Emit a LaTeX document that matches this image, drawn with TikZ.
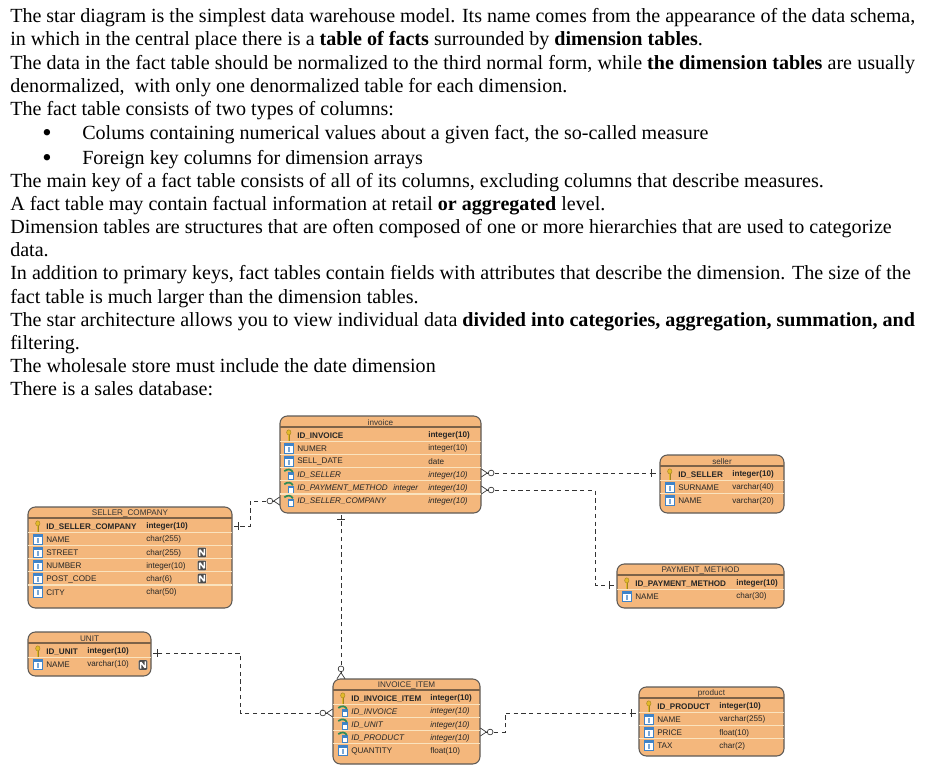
\documentclass[tikz,border=0pt]{standalone}
\usepackage{fontspec}
\setmainfont{Liberation Serif}
\setsansfont{Liberation Sans}
\usetikzlibrary{arrows.meta}
\definecolor{tablefill}{HTML}{F4B77C}
\definecolor{tableedge}{HTML}{5E5A56}
\definecolor{headline}{HTML}{7C6248}
\definecolor{rowline}{HTML}{FAE3BE}
\definecolor{keygold}{HTML}{E3B92B}
\definecolor{colblue}{HTML}{3F83C8}
\definecolor{fkgreen}{HTML}{2E8B57}
\tikzset{
  para/.style={anchor=base west,inner sep=0pt,font=\fontsize{15.06}{18}\selectfont},
  tablebox/.style={draw=tableedge,fill=tablefill,line width=0.8pt,rounded corners=5.5pt,inner sep=0pt,outer sep=0pt},
  tabletitle/.style={inner sep=0pt,font=\sffamily\fontsize{6.1}{7}\selectfont,text=black!80},
  rowtext/.style={anchor=west,inner sep=0pt,font=\sffamily\fontsize{6.1}{7}\selectfont,text=black!85},
  nullmark/.style={inner sep=0pt,minimum width=6.4pt,minimum height=7.4pt,fill=white,rounded corners=0.8pt,path picture={
    \fill[black!70,shift={(path picture bounding box.center)}] (-4.3,-5) rectangle (4.3,5);
    \draw[white,line width=1.1pt,line join=miter,shift={(path picture bounding box.center)}] (-2.4,3.6) -- (-2.4,-3.2) -- (2.4,3.2) -- (2.4,-3.6);}},
  rel/.style={draw=black!80,line width=0.6pt,dash pattern=on 3.2pt off 2.6pt},
  relends/.style={arrows={{Straight Barb[reversed,length=4.5pt,width=6pt,line width=0.5pt,sep=0pt]Circle[open,fill=white,length=4.8pt,width=4.8pt,line width=0.5pt,sep=0pt]}-{Bar[width=5.5pt,line width=0.6pt]}}},
}
\newcommand{\fontkey}{\bfseries}
\newcommand{\fontcol}{}
\newcommand{\fontfk}{\itshape}
\newcommand{\iconkey}[2]{\begin{scope}[shift={(#1,#2)}]
  \draw[keygold!70!black,fill=keygold,line width=0.3pt] (0,-2.6) ellipse (2.2 and 2.6);
  \fill[keygold!70!black] (-1.1,-0.5) rectangle (1.1,6);
  \fill[keygold] (-0.6,-0.5) rectangle (0.6,5.5);
\end{scope}}
\newcommand{\iconcol}[2]{\begin{scope}[shift={(#1,#2)}]
  \draw[colblue,fill=white,line width=0.5pt] (-4.2,-5.2) rectangle (4.2,5.4);
  \fill[colblue] (-4.2,-5.2) rectangle (4.2,-2.6);
  \fill[colblue!70] (-0.8,-1.4) rectangle (0.8,3.8);
\end{scope}}
\newcommand{\iconfk}[2]{\begin{scope}[shift={(#1,#2)}]
  \draw[colblue,fill=white,line width=0.5pt] (-0.5,-1.5) rectangle (5,5.5);
  \fill[colblue] (-0.5,-1.5) rectangle (5,0.4);
  \draw[fkgreen,line width=1.3pt] (-4.5,-3.2) .. controls (-1,-5.8) and (2.5,-5.2) .. (4,-2.2);
\end{scope}}
% name, x1, y1, x2, y2, title, name column, type column, rows
\newcommand{\ertable}[9]{
  \node[tablebox,minimum width={(#4-#2)*0.75pt},minimum height={(#5-#3)*0.75pt}] (#1) at ({(#2+#4)/2},{(#3+#5)/2}) {};
  \node[tabletitle] (#1-title) at ({(#2+#4)/2},#3+6.5) {#6};
  \foreach \kind/\colname/\coltype [count=\c] in {#9} {
    \pgfmathsetmacro{\rowy}{#3+19+13.1*(\c-1)}
    \ifnum\c>1 \draw[rowline,line width=0.8pt] (#2,\rowy-6.5) -- (#4,\rowy-6.5); \fi
    \csname icon\kind\endcsname{#7-8.2}{\rowy}
    \node[rowtext] (#1-\c) at (#7,\rowy+0.7) {\csname font\kind\endcsname \colname};
    \node[rowtext] (#1-\c-type) at (#8,\rowy+0.7) {\csname font\kind\endcsname \coltype};
  }
  \draw[headline,line width=1pt] (#2,#3+11) -- (#4,#3+11);
}
\newcommand{\just}[1]{\makebox[678.75pt][s]{#1}}
\begin{document}
\begin{tikzpicture}[x=0.75pt,y=-0.75pt]
\useasboundingbox (0,0) rectangle (951,769);
\node[para] (line1) at (10,22) {\just{The star diagram is the simplest data warehouse model. Its name comes from the appearance of the data schema,}};
\node[para] (line2) at (10,45) {in which in the central place there is a \textbf{table of facts} surrounded by \textbf{dimension tables}.};
\node[para] (line3) at (10,69) {\just{The data in the fact table should be normalized to the third normal form, while \textbf{the dimension tables} are usually}};
\node[para] (line4) at (10,92) {denormalized,\ \ with only one denormalized table for each dimension.};
\node[para] (line5) at (10,115) {The fact table consists of two types of columns:};
\node[para,font=\fontsize{20}{20}\selectfont] (dot1) at (42,141) {•};
\node[para] (line6) at (82,139) {Colums containing numerical values about a given fact, the so-called measure};
\node[para,font=\fontsize{20}{20}\selectfont] (dot2) at (42,166) {•};
\node[para] (line7) at (82,164) {Foreign key columns for dimension arrays};
\node[para] (line8) at (10,187) {The main key of a fact table consists of all of its columns, excluding columns that describe measures.};
\node[para] (line9) at (10,210) {A fact table may contain factual information at retail \textbf{or aggregated} level.};
\node[para] (line10) at (10,233) {Dimension tables are structures that are often composed of one or more hierarchies that are used to categorize};
\node[para] (line11) at (10,256) {data.};
\node[para] (line12) at (10,279) {In addition to primary keys, fact tables contain fields with attributes that describe the dimension. The size of the};
\node[para] (line13) at (10,303) {fact table is much larger than the dimension tables.};
\node[para] (line14) at (10,326) {The star architecture allows you to view individual data \textbf{divided into categories, aggregation, summation, and}};
\node[para] (line15) at (10,349) {filtering.};
\node[para] (line16) at (10,372) {The wholesale store must include the date dimension};
\node[para] (line17) at (10,395) {There is a sales database:};
% tables
\ertable{invoice}{280}{416}{481}{513}{invoice}{297}{428}{key/ID\_INVOICE/integer(10),col/NUMER/integer(10),col/SELL\_DATE/date,fk/ID\_SELLER/integer(10),fk/ID\_PAYMENT\_METHOD/integer(10),fk/ID\_SELLER\_COMPANY/integer(10)}
\node[rowtext,font=\sffamily\itshape\fontsize{6.1}{7}\selectfont] (invoice-extra) at (393,488) {integer};
\ertable{company}{28}{507}{232}{608}{SELLER\_COMPANY}{46}{146}{key/ID\_SELLER\_COMPANY/integer(10),col/NAME/char(255),col/STREET/char(255),col/NUMBER/integer(10),col/POST\_CODE/char(6),col/CITY/char(50)}
\node[nullmark] (company-n3) at (202,552.5) {};
\node[nullmark] (company-n4) at (202,565.5) {};
\node[nullmark] (company-n5) at (202,578.5) {};
\ertable{unit}{28}{632}{151}{676}{UNIT}{46}{87}{key/ID\_UNIT/integer(10),col/NAME/varchar(10)}
\node[nullmark] (unit-n2) at (143,665) {};
\ertable{item}{333}{679}{480}{764}{INVOICE\_ITEM}{351}{430}{key/ID\_INVOICE\_ITEM/integer(10),fk/ID\_INVOICE/integer(10),fk/ID\_UNIT/integer(10),fk/ID\_PRODUCT/integer(10),col/QUANTITY/float(10)}
\ertable{product}{639}{687}{784}{756}{product}{657}{719}{key/ID\_PRODUCT/integer(10),col/NAME/varchar(255),col/PRICE/float(10),col/TAX/char(2)}
\ertable{seller}{660}{455}{784}{513}{seller}{678}{732}{key/ID\_SELLER/integer(10),col/SURNAME/varchar(40),col/NAME/varchar(20)}
\ertable{payment}{617}{564}{784}{608}{PAYMENT\_METHOD}{635}{736}{key/ID\_PAYMENT\_METHOD/integer(10),col/NAME/char(30)}
% connectors
\coordinate (a1) at (481,473);
\coordinate (b1) at (652,473);
\draw[rel,relends] (a1) -- (b1);
\draw[rel] (b1) -- (seller.west |- b1);
\coordinate (a2) at (481,490);
\coordinate (c2) at (595,490);
\coordinate (d2) at (595,585);
\coordinate (b2) at (610,585);
\draw[rel,relends] (a2) -- (c2) -- (d2) -- (b2);
\draw[rel] (b2) -- (payment.west |- b2);
\coordinate (a3) at (280,501);
\coordinate (c3) at (250,501);
\coordinate (d3) at (250,526);
\coordinate (b3) at (238,526);
\draw[rel,relends] (a3) -- (c3) -- (d3) -- (b3);
\draw[rel] (b3) -- (company.east |- b3);
\coordinate (a4) at (341,679);
\coordinate (b4) at (341,519);
\draw[rel,relends] (a4) -- (b4);
\draw[rel] (b4) -- (invoice.south -| b4);
\coordinate (a5) at (333,713);
\coordinate (c5) at (240,713);
\coordinate (d5) at (240,653);
\coordinate (b5) at (157,653);
\draw[rel,relends] (a5) -- (c5) -- (d5) -- (b5);
\draw[rel] (b5) -- (unit.east |- b5);
\coordinate (a6) at (480,732);
\coordinate (c6) at (505,732);
\coordinate (d6) at (505,713);
\coordinate (b6) at (632,713);
\draw[rel,relends] (a6) -- (c6) -- (d6) -- (b6);
\draw[rel] (b6) -- (product.west |- b6);
\end{tikzpicture}
\end{document}
